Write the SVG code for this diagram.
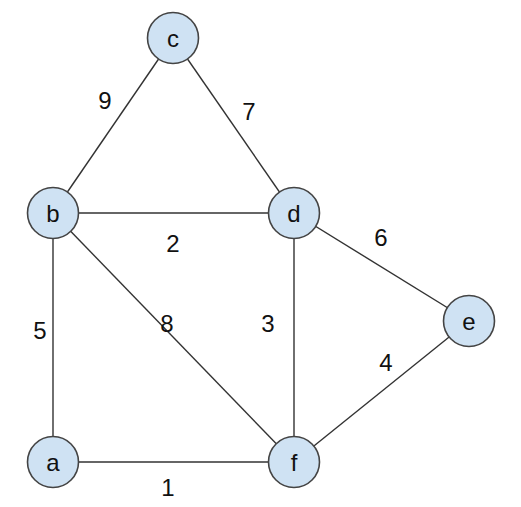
<svg xmlns="http://www.w3.org/2000/svg" width="521" height="507" viewBox="0 0 521 507">
<style>
.edge{stroke:#333;stroke-width:1.4;fill:none}
.node circle{fill:#cfe2f3;stroke:#444;stroke-width:1.6}
text{font-family:"Liberation Sans",Arial,sans-serif;font-size:24px;fill:#111;text-anchor:middle}
</style>
<rect width="521" height="507" fill="#fff"/>
<g id="connectors">
<line class="edge" x1="173" y1="38" x2="53" y2="213"/>
<line class="edge" x1="173" y1="38" x2="294" y2="213"/>
<line class="edge" x1="53" y1="213" x2="294" y2="213"/>
<line class="edge" x1="53" y1="213" x2="53" y2="462"/>
<line class="edge" x1="53" y1="213" x2="294" y2="462"/>
<line class="edge" x1="294" y1="213" x2="294" y2="462"/>
<line class="edge" x1="294" y1="213" x2="469" y2="321"/>
<line class="edge" x1="469" y1="321" x2="294" y2="462"/>
<line class="edge" x1="53" y1="462" x2="294" y2="462"/>
</g>
<g id="edge-labels">
<text x="105" y="109">9</text>
<text x="249" y="120">7</text>
<text x="173" y="252">2</text>
<text x="381" y="246">6</text>
<text x="167" y="332">8</text>
<text x="268" y="332">3</text>
<text x="40" y="339">5</text>
<text x="386" y="371">4</text>
<text x="168" y="496">1</text>
</g>
<g id="node-c" class="node"><circle cx="173" cy="38" r="25.5"/><text x="173" y="47">c</text></g>
<g id="node-b" class="node"><circle cx="53" cy="213" r="25.5"/><text x="53" y="222">b</text></g>
<g id="node-d" class="node"><circle cx="294" cy="213" r="25.5"/><text x="294" y="222">d</text></g>
<g id="node-e" class="node"><circle cx="469" cy="321" r="25.5"/><text x="469" y="330">e</text></g>
<g id="node-a" class="node"><circle cx="53" cy="462" r="25.5"/><text x="53" y="471">a</text></g>
<g id="node-f" class="node"><circle cx="294" cy="462" r="25.5"/><text x="294" y="471">f</text></g>
</svg>
